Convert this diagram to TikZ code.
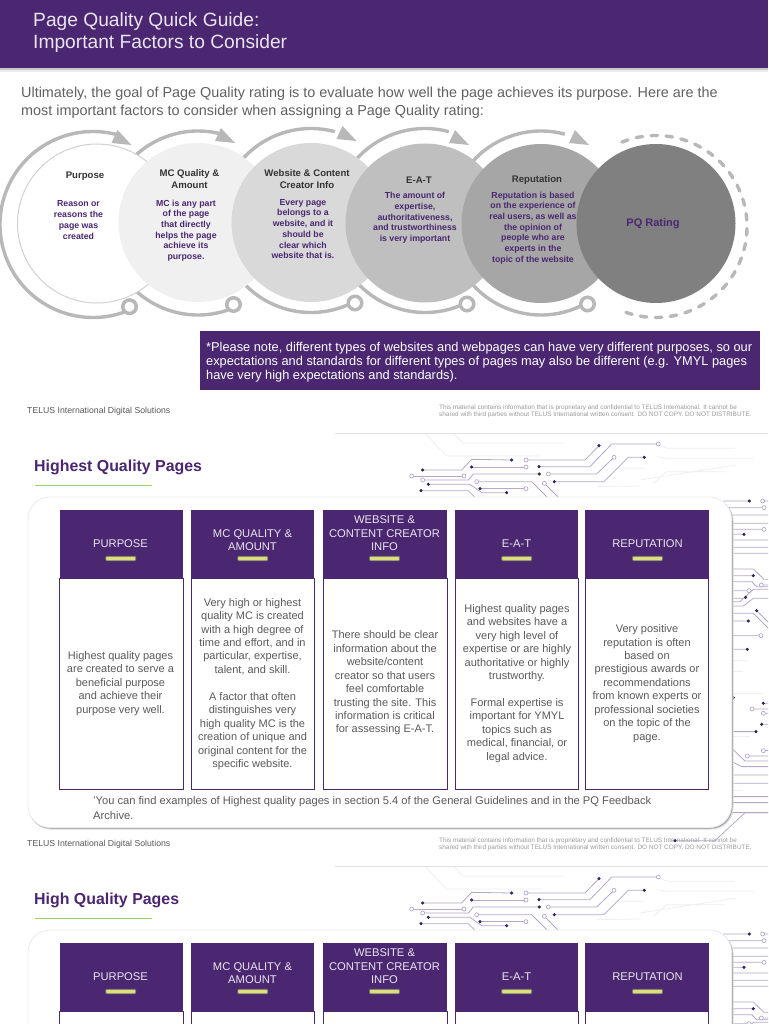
\documentclass[tikz,border=0pt]{standalone}
\usepackage{fontspec}
\setmainfont{Liberation Sans}
\usetikzlibrary{calc}
\definecolor{qpurple}{HTML}{4A2770}
\definecolor{qtext}{HTML}{5A5A5A}
\definecolor{qarc}{HTML}{B8B8B8}
\definecolor{qtrace}{HTML}{B4A8C9}
\definecolor{qfaint}{HTML}{F0EEF2}
\definecolor{qdot}{HTML}{35205A}
\definecolor{qhead}{HTML}{EAE5F0}
\definecolor{qpill}{HTML}{DDE07A}
\definecolor{qgreen}{HTML}{9BCF63}
\newcommand{\fsz}[2]{\fontsize{#1}{#2}\selectfont}
\tikzset{
  x=1pt,y=-1pt,
  bigcircle/.style={circle,inner sep=0pt,minimum size=159pt},
  ctitle/.style={align=center,inner sep=0pt,text=black!80,font=\fsz{9.6}{12.6}\bfseries},
  cbody/.style={align=center,inner sep=0pt,text=qpurple,font=\fsz{8.75}{10.7}\bfseries},
  ringnode/.style={circle,draw=qarc,line width=3.5pt,fill=white,inner sep=0pt,minimum size=13.5pt},
  arcline/.style={draw=qarc,line width=3.4pt},
  foot/.style={anchor=west,inner sep=0pt,text=black!65,font=\fsz{8.7}{10}},
  legal/.style={anchor=west,inner sep=0pt,text=black!40,font=\fsz{6.4}{7}},
  headcell/.style={draw=none,fill=qpurple,minimum height=68pt,inner sep=0pt},
  headtext/.style={align=center,inner sep=0pt,text=qhead,font=\fsz{11.2}{13.5}},
  bodycell/.style={draw=qpurple,line width=1pt,fill=white,inner sep=0pt},
  bodytext/.style={align=center,inner sep=0pt,text=qtext,font=\fsz{11}{13.45}},
  pill/.style={draw=black!55,line width=.8pt,fill=qpill,rounded corners=1pt,minimum width=30pt,minimum height=4.5pt,inner sep=0pt},
  trace/.style={draw=qtrace,line width=.8pt},
  ftrace/.style={draw=qfaint,line width=.8pt},
  cdotm/.style={fill=qdot},
  cringm/.style={draw=qtrace,line width=.7pt,fill=white},
}
% arc of the chain: centre, radius, start and end screen angle
\newcommand{\chainarc}[5]{\draw[arcline] ($(#1,#2)+(#4:#3)$) arc[start angle=#4,end angle=#5,radius=#3];}
\newcommand{\arrowhead}[2]{\fill[qarc] (#1,#2) -- ++(-20,-2) -- ++(6,-13) -- cycle;}
\newcommand{\dotat}[2]{\fill[cdotm] (#1,#2) circle[radius=1.7pt];}
\newcommand{\ringat}[2]{\filldraw[cringm] (#1,#2) circle[radius=2pt];}
\newcommand{\circuitpart}{%
  % top cluster, coordinates in thirds of a pixel
  \begin{scope}[shift={(400pt,33pt)},x=.3333pt,y=-.3333pt]
    \draw[ftrace] (160,100)--(190,130)--(490,130) (75,100)--(140,168)--(425,168) (770,130)--(800,145)--(1005,145)
      (770,170)--(800,175)--(1060,175) (640,205)--(735,205) (760,250)--(800,215)--(975,215) (590,260)--(720,258) (720,240)--(1010,195);
    \draw[trace] (68,210)--(185,210)--(215,178)--(335,180);
    \draw[trace] (378,180)--(555,180)--(597,137);
    \draw[trace] (215,201)--(378,201);
    \draw[trace] (417,200)--(570,200)--(635,132)--(775,132);
    \draw[trace] (35,228)--(192,228);
    \draw[trace] (68,240)--(205,240)--(220,222)--(418,222);
    \draw[trace] (445,222)--(590,222)--(642,172);
    \draw[trace] (463,245)--(612,245)--(685,172)--(733,172);
    \draw[trace] (85,253)--(210,253)--(245,278)--(320,278);
    \draw[trace] (230,245)--(395,245)--(445,295);
    \draw[trace] (240,266)--(378,266);
    \draw[trace] (63,272)--(205,272)--(230,297);
    \draw[trace] (433,250)--(480,297);
    \dotat{68}{210}\dotat{335}{180}\ringat{378}{180}\dotat{597}{137}\dotat{215}{201}\ringat{378}{201}
    \dotat{417}{200}\ringat{775}{132}\ringat{35}{228}\ringat{192}{228}\ringat{68}{240}\dotat{418}{222}
    \ringat{445}{222}\ringat{642}{172}\dotat{463}{245}\dotat{733}{172}\dotat{85}{253}\dotat{320}{278}
    \ringat{230}{245}\dotat{240}{266}\ringat{378}{266}\dotat{63}{272}\ringat{433}{250}
  \end{scope}
  % right cluster, coordinates in thirds of a pixel
  \begin{scope}[shift={(690pt,-57pt)},x=.3333pt,y=-.3333pt]
    \draw[trace] (100,33)--(178,33) (218,33)--(240,33) (100,53)--(222,53) (100,75)--(240,75) (100,100)--(240,100)
      (100,118)--(222,118) (100,133)--(162,133) (100,150)--(240,150) (100,172)--(240,172) (100,190)--(240,190)
      (100,237)--(190,237)--(222,268)--(240,268) (100,257)--(190,257) (100,275)--(185,275)--(200,290)--(240,290)
      (214,285)--(240,285) (100,302)--(177,302) (100,325)--(167,325) (100,335)--(150,335)--(190,298)--(240,298)
      (100,348)--(160,348)--(190,325)--(240,325) (100,370)--(190,370)--(240,420) (200,362)--(240,402)
      (100,393)--(175,393) (100,437)--(213,437) (100,478)--(172,478) (220,640)--(240,640) (186,657)--(240,657)
      (220,670)--(240,670) (215,703)--(240,703) (100,725)--(198,725) (220,782)--(240,782) (172,798)--(240,798)
      (120,770)--(165,813)--(240,813) (120,812)--(155,830)--(240,830) (100,855)--(240,855) (100,880)--(240,880)
      (100,920)--(240,920) (100,938)--(240,938) (100,968)--(240,968);
    \draw[ftrace] (100,510)--(175,510) (100,545)--(160,545) (100,610)--(220,610) (100,740)--(180,740) (100,900)--(160,900);
    \dotat{178}{33}\ringat{218}{33}\ringat{222}{53}\ringat{222}{118}\dotat{162}{133}\dotat{190}{257}
    \ringat{214}{285}\ringat{177}{302}\dotat{167}{322}\dotat{200}{362}\dotat{175}{393}\ringat{213}{437}
    \dotat{172}{478}\dotat{130}{623}\dotat{220}{640}\ringat{186}{657}\ringat{220}{670}\dotat{215}{703}
    \dotat{198}{725}\ringat{220}{782}\ringat{172}{798}
  \end{scope}
}
% #1 name prefix, #2 heading
\newcommand{\qpage}[2]{%
  \draw[black!12,line width=.7pt] (335,0)--(768,0);
  \node[anchor=west,inner sep=0pt,text=qpurple,font=\fsz{15.9}{18}\bfseries] (#1head) at (34,34.5) {#2};
  \draw[draw=qgreen,line width=1.5pt] (35,52.5)--(152,52.5);
  \fill[black!15,rounded corners=22pt] (29,66) rectangle (733.5,396.5);
  \fill[black!38,rounded corners=22pt] (28.5,65) rectangle (732.5,395.5);
  \filldraw[draw=black!8,line width=.8pt,fill=white,rounded corners=22pt] (28,64) rectangle (731.5,394.5);
  \node[headcell,minimum width=123.5pt] (#1h1) at (121.25,111) {};
  \node[headcell,minimum width=123pt] (#1h2) at (252.5,111) {};
  \node[headcell,minimum width=124pt] (#1h3) at (385,111) {};
  \node[headcell,minimum width=123pt] (#1h4) at (516.5,111) {};
  \node[headcell,minimum width=123.5pt] (#1h5) at (646.75,111) {};
  \node[headtext] (#1ht1) at (120.5,110.5) {PURPOSE};
  \node[headtext] (#1ht2) at (252.5,107) {MC QUALITY \&\\AMOUNT};
  \node[headtext] (#1ht3) at (384.5,100.5) {WEBSITE \&\\CONTENT CREATOR\\INFO};
  \node[headtext] (#1ht4) at (516.5,110.5) {E-A-T};
  \node[headtext] (#1ht5) at (647.5,110.5) {REPUTATION};
  \node[pill] (#1p1) at (120.8,125.5) {};
  \node[pill] (#1p2) at (252.8,125.5) {};
  \node[pill] (#1p3) at (384.5,125.5) {};
  \node[pill] (#1p4) at (516.7,125.5) {};
  \node[pill] (#1p5) at (647.5,125.5) {};
  \node[bodycell,minimum width=123.5pt,minimum height=211pt] (#1b1) at (121.25,250.5) {};
  \node[bodycell,minimum width=123pt,minimum height=211pt] (#1b2) at (252.5,250.5) {};
  \node[bodycell,minimum width=124pt,minimum height=211pt] (#1b3) at (385,250.5) {};
  \node[bodycell,minimum width=123pt,minimum height=211pt] (#1b4) at (516.5,250.5) {};
  \node[bodycell,minimum width=123.5pt,minimum height=211pt] (#1b5) at (646.75,250.5) {};
}
\begin{document}
\begin{tikzpicture}
\path[use as bounding box,clip] (0,0) rectangle (768,1024);
\fill[white] (0,0) rectangle (768,1024);
% header band
\fill[black!8] (0,68) rectangle (768,72);
\fill[black!22] (0,68) rectangle (768,70);
\fill[qpurple] (0,0) rectangle (768,68.5);
\node[anchor=west,inner sep=0pt,text=qhead,font=\fsz{19.2}{21}] (t1) at (33,22) {Page Quality Quick Guide:};
\node[anchor=west,inner sep=0pt,text=qhead,font=\fsz{19.2}{21}] (t2) at (33,43.5) {Important Factors to Consider};
\node[anchor=west,inner sep=0pt,text=black!62,font=\fsz{14.4}{18}] (i1) at (21,93.5) {Ultimately, the goal of Page Quality rating is to evaluate how well the page achieves its purpose. Here are the};
\node[anchor=west,inner sep=0pt,text=black!62,font=\fsz{14.4}{18}] (i2) at (21,111.5) {most important factors to consider when assigning a Page Quality rating:};
% chain arcs and arrowheads
\chainarc{93}{224.5}{93}{66.6}{287}
\chainarc{198}{223}{92}{66.6}{285}
\chainarc{311}{220.5}{92}{62}{285}
\chainarc{425}{220.5}{92}{62}{285}
\chainarc{541}{223}{92}{62}{285}
\arrowhead{131.5}{145}
\arrowhead{235}{143}
\arrowhead{356.5}{141}
\arrowhead{469}{145}
\arrowhead{589}{145}
\node[ringnode] (r1) at (129.5,306.7) {};
\node[ringnode] (r2) at (233.5,304.5) {};
\node[ringnode] (r3) at (355,303) {};
\node[ringnode] (r4) at (467,304) {};
\node[ringnode] (r5) at (587.5,304) {};
\draw[qarc,line width=3.4pt,line cap=round,dash pattern=on 6.5pt off 8.5pt] ($(656,226.5)+(248:91)$) arc[start angle=248,end angle=470,radius=91];
% chain circles
\node[bigcircle,draw=black!18,line width=1pt,fill=white] (c1) at (97,223.5) {};
\node[bigcircle,fill=black!6] (c2) at (198,222.5) {};
\node[bigcircle,fill=black!15] (c3) at (311,222.5) {};
\node[bigcircle,fill=black!25] (c4) at (425,223) {};
\node[bigcircle,fill=black!35] (c5) at (541,223.5) {};
\node[bigcircle,fill=black!50] (c6) at (656,223.5) {};
\node[ctitle] (c1t) at (85,176) {Purpose};
\node[cbody] (c1b) at (78.5,220) {Reason or\\reasons the\\page was\\created};
\node[ctitle] (c2t) at (189.5,179) {MC Quality \&\\Amount};
\node[cbody] (c2b) at (186,230.5) {MC is any part\\of the page\\that directly\\helps the page\\achieve its\\purpose.};
\node[ctitle] (c3t) at (307,179) {Website \& Content\\Creator Info};
\node[cbody] (c3b) at (303,229) {Every page\\belongs to a\\website, and it\\should be\\clear which\\website that is.};
\node[ctitle] (c4t) at (419,180) {E-A-T};
\node[cbody] (c4b) at (415,218) {The amount of\\expertise,\\authoritativeness,\\and trustworthiness\\is very important};
\node[ctitle] (c5t) at (537,180) {Reputation};
\node[cbody] (c5b) at (533,228) {Reputation is based\\on the experience of\\real users, as well as\\the opinion of\\people who are\\experts in the\\topic of the website};
\node[inner sep=0pt,text=qpurple,font=\fsz{11}{13}\bfseries] (c6t) at (653,223.5) {PQ Rating};
% note box
\fill[qpurple] (200,331) rectangle (760,389.5);
\node[anchor=west,inner sep=0pt,text=white,font=\fsz{12.8}{14}] (n1) at (206,348) {*Please note, different types of websites and webpages can have very different purposes, so our};
\node[anchor=west,inner sep=0pt,text=white,font=\fsz{12.8}{14}] (n2) at (206,362) {expectations and standards for different types of pages may also be different (e.g. YMYL pages};
\node[anchor=west,inner sep=0pt,text=white,font=\fsz{12.8}{14}] (n3) at (206,376.5) {have very high expectations and standards).};
% first footer
\node[foot] (f1) at (27,411.5) {TELUS International Digital Solutions};
\node[legal] (l1a) at (439,408) {This material contains information that is proprietary and confidential to TELUS International. It cannot be};
\node[legal] (l1b) at (439,415.2) {shared with third parties without TELUS International written consent. DO NOT COPY. DO NOT DISTRIBUTE.};
% first panel
\begin{scope}[yshift=-433pt]
  \circuitpart
  \qpage{a}{Highest Quality Pages}
  \node[bodytext] (a1) at (120.5,250.5) {Highest quality pages\\are created to serve a\\beneficial purpose\\and achieve their\\purpose very well.};
  \node[bodytext] (a2) at (252.5,251) {Very high or highest\\quality MC is created\\with a high degree of\\time and effort, and in\\particular, expertise,\\talent, and skill.\\[13.45pt]A factor that often\\distinguishes very\\high quality MC is the\\creation of unique and\\original content for the\\specific website.};
  \node[bodytext] (a3) at (385,250) {There should be clear\\information about the\\website/content\\creator so that users\\feel comfortable\\trusting the site. This\\information is critical\\for assessing E-A-T.};
  \node[bodytext] (a4) at (517,250.5) {Highest quality pages\\and websites have a\\very high level of\\expertise or are highly\\authoritative or highly\\trustworthy.\\[13.45pt]Formal expertise is\\important for YMYL\\topics such as\\medical, financial, or\\legal advice.};
  \node[bodytext] (a5) at (647,250.5) {Very positive\\reputation is often\\based on\\prestigious awards or\\recommendations\\from known experts or\\professional societies\\on the topic of the\\page.};
  \node[anchor=west,inner sep=0pt,text=qtext,font=\fsz{11.15}{13}] (an1) at (93,368.5) {'You can find examples of Highest quality pages in section 5.4 of the General Guidelines and in the PQ Feedback};
  \node[anchor=west,inner sep=0pt,text=qtext,font=\fsz{11.15}{13}] (an2) at (93,382.5) {Archive.};
\end{scope}
% second footer
\node[foot] (f2) at (27,844.5) {TELUS International Digital Solutions};
\node[legal] (l2a) at (439,841) {This material contains information that is proprietary and confidential to TELUS International. It cannot be};
\node[legal] (l2b) at (439,848.2) {shared with third parties without TELUS International written consent. DO NOT COPY. DO NOT DISTRIBUTE.};
% trace that runs over the legal note
\coordinate (sa) at (675,840.7);
\coordinate (sb) at (715,840.7);
\coordinate (sc) at (745,812.7);
\coordinate (sd) at (770,812.7);
\draw[trace] (sa)--(sb)--(sc)--(sd);
\fill[cdotm] (sa) circle[radius=1.7pt];
% second panel
\begin{scope}[yshift=-866pt]
  \circuitpart
  \qpage{b}{High Quality Pages}
\end{scope}
\end{tikzpicture}
\end{document}
